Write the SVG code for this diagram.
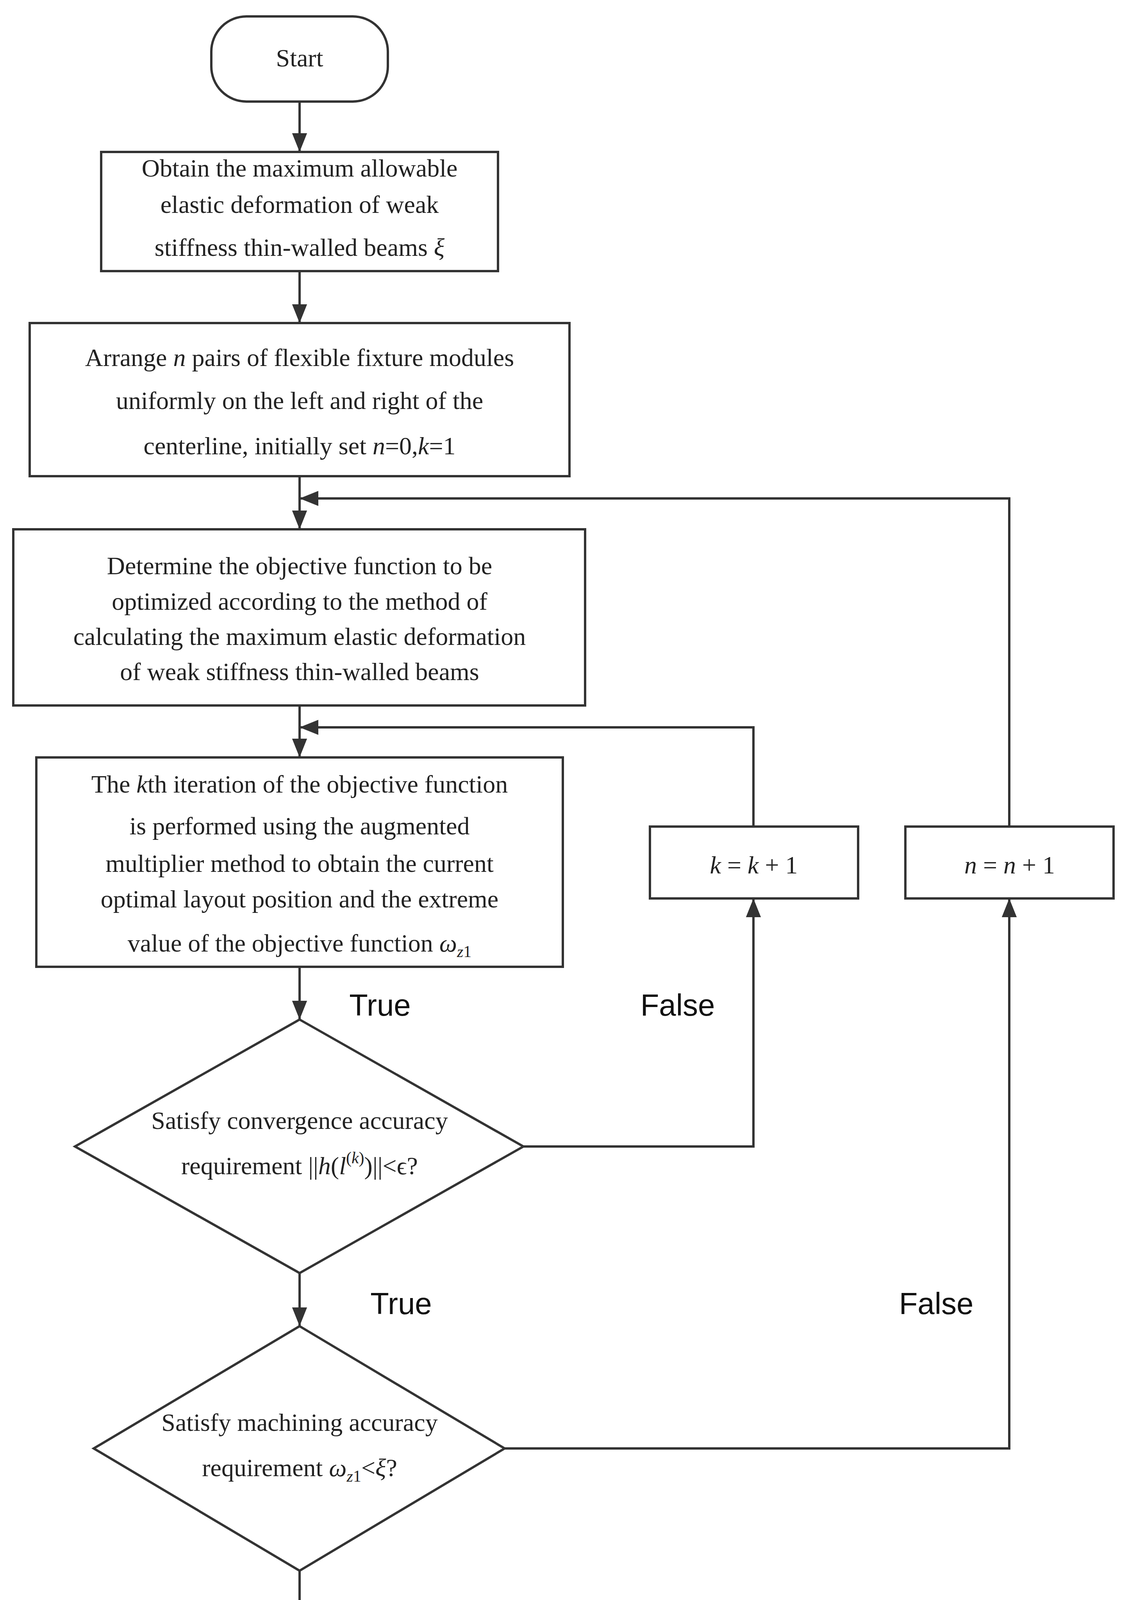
<svg xmlns="http://www.w3.org/2000/svg" width="2888" height="4425" viewBox="0 0 2888 4425">
<style>
.s{fill:#fff;stroke:#333;stroke-width:6}
.t{font-family:"Liberation Serif",serif;font-size:64px;fill:#222;text-anchor:middle}
.a{font-family:"Liberation Sans",sans-serif;font-size:62px;fill:#111;text-anchor:middle}
.l{font-family:"Liberation Sans",sans-serif;font-size:78px;fill:#111;text-anchor:middle}
.m{font-style:italic}
.c{fill:none;stroke:#333;stroke-width:6}
</style>
<defs><marker id="ah" viewBox="0 0 10 10" refX="10" refY="5" markerWidth="48" markerHeight="48" markerUnits="userSpaceOnUse" orient="auto"><path d="M0,1L10,5L0,9z" fill="#333"/></marker></defs>
<rect width="2888" height="4425" fill="#fff"/>
<g id="connectors" class="c">
<path d="M767,260V389" marker-end="url(#ah)"/>
<path d="M767,694V827" marker-end="url(#ah)"/>
<path d="M767,1219V1355" marker-end="url(#ah)"/>
<path d="M767,1806V1939" marker-end="url(#ah)"/>
<path d="M767,2475V2610" marker-end="url(#ah)"/>
<path d="M767,3259V3395" marker-end="url(#ah)"/>
<path d="M767,4021V4157" marker-end="url(#ah)"/>
<path d="M1929,2116V1862H767" marker-end="url(#ah)"/>
<path d="M2584,2116V1276H767" marker-end="url(#ah)"/>
<path d="M1340,2935H1929V2300" marker-end="url(#ah)"/>
<path d="M1292,3708H2584V2300" marker-end="url(#ah)"/>
</g>
<g id="start"><rect class="s" x="541" y="42" width="452" height="218" rx="90"/><text class="t" x="767" y="170">Start</text></g>
<g id="box1"><rect class="s" x="259" y="389" width="1016" height="305"/>
<text class="t" x="767" y="452">Obtain the maximum allowable</text>
<text class="t" x="767" y="545">elastic deformation of weak</text>
<text class="t" x="767" y="655">stiffness thin-walled beams <tspan class="m">ξ</tspan></text></g>
<g id="box2"><rect class="s" x="76" y="827" width="1382" height="392"/>
<text class="t" x="767" y="937">Arrange <tspan class="m">n</tspan> pairs of  flexible fixture modules</text>
<text class="t" x="767" y="1047">uniformly on the left and right of the</text>
<text class="t" x="767" y="1163">centerline, initially set <tspan class="m">n</tspan>=0,<tspan class="m">k</tspan>=1</text></g>
<g id="box3"><rect class="s" x="34" y="1355" width="1464" height="451"/>
<text class="t" x="767" y="1470">Determine the objective function to be</text>
<text class="t" x="767" y="1561">optimized according to the method of</text>
<text class="t" x="767" y="1651">calculating the maximum elastic deformation</text>
<text class="t" x="767" y="1741">of weak stiffness thin-walled beams</text></g>
<g id="box4"><rect class="s" x="93" y="1939" width="1348" height="536"/>
<text class="t" x="767" y="2029">The <tspan class="m">k</tspan>th iteration of the objective function</text>
<text class="t" x="767" y="2136">is performed using the augmented</text>
<text class="t" x="767" y="2232">multiplier method to obtain the current</text>
<text class="t" x="767" y="2323">optimal layout position and the extreme</text>
<text class="t" x="767" y="2436">value of the objective function <tspan class="m">ω</tspan><tspan class="m" font-size="42" dy="14">z</tspan><tspan font-size="42">1</tspan></text></g>
<g id="kbox"><rect class="s" x="1664" y="2116" width="533" height="184"/><text class="t" x="1930" y="2236" font-size="88"><tspan class="m">k</tspan> = <tspan class="m">k</tspan> + 1</text></g>
<g id="nbox"><rect class="s" x="2318" y="2116" width="533" height="184"/><text class="t" x="2585" y="2236" font-size="88"><tspan class="m">n</tspan> = <tspan class="m">n</tspan> + 1</text></g>
<g id="d1"><path class="s" d="M767,2610L1340,2935L767,3259L192,2935z"/>
<text class="t" x="767" y="2890">Satisfy convergence accuracy</text>
<text class="t" x="767" y="3006">requirement ||<tspan class="m">h</tspan>(<tspan class="m">l</tspan><tspan font-size="42" dy="-28">(<tspan class="m">k</tspan>)</tspan><tspan dy="28">)||&lt;ϵ?</tspan></text></g>
<g id="d2"><path class="s" d="M767,3395L1292,3708L767,4021L240,3708z"/>
<text class="t" x="767" y="3663">Satisfy machining accuracy</text>
<text class="t" x="767" y="3779">requirement <tspan class="m">ω</tspan><tspan class="m" font-size="42" dy="14">z</tspan><tspan font-size="42">1</tspan><tspan dy="-14">&lt;</tspan><tspan class="m">ξ</tspan>?</text></g>
<g id="end"><rect class="s" x="358" y="4157" width="812" height="234" rx="100"/>
<text class="a" x="767" y="4260">Output optimized flexible</text>
<text class="a" x="767" y="4336">fixture module layout</text></g>
<g id="labels">
<text class="l" x="973" y="2600">True</text>
<text class="l" x="1735" y="2600">False</text>
<text class="l" x="1027" y="3364">True</text>
<text class="l" x="2397" y="3364">False</text></g>
</svg>
